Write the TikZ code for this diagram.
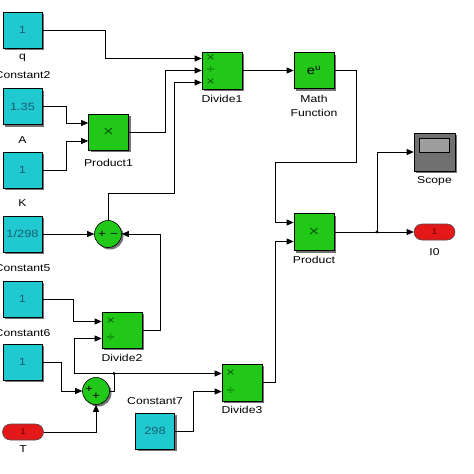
\documentclass[tikz,border=0pt]{standalone}
\usepackage{fontspec}
\setmainfont{Liberation Sans}[FakeStretch=1.22]
\usetikzlibrary{arrows.meta}
\usetikzlibrary{shadows}

\definecolor{constcyan}{RGB}{32,200,208}
\definecolor{consttext}{RGB}{20,95,115}
\definecolor{blockgreen}{RGB}{34,200,24}
\definecolor{signgreen}{RGB}{10,90,10}
\definecolor{portred}{RGB}{228,24,24}
\definecolor{scopegrey}{RGB}{112,112,112}

\begin{document}
\begin{tikzpicture}[x=1pt,y=-1pt,
    font=\fontsize{10}{11}\selectfont,
    shade box/.style={drop shadow={shadow xshift=2pt,shadow yshift=-2pt,fill=black!55,opacity=1}},
    const/.style={draw,line width=0.6pt,fill=constcyan,text=consttext,minimum width=39pt,minimum height=36pt,inner sep=0pt,font=\fontsize{10.5}{11}\selectfont,shade box},
    blk/.style={draw,line width=0.6pt,fill=blockgreen,minimum width=40pt,minimum height=36pt,inner sep=0pt,shade box},
    sumblk/.style={circle,draw,line width=0.6pt,fill=blockgreen,minimum size=27pt,inner sep=0pt,shade box},
    port/.style={draw=black!70,line width=0.6pt,fill=portred,rounded corners=8pt,minimum width=41pt,minimum height=16pt,inner sep=0pt,text=red!40!black,font=\fontsize{8}{9}\selectfont},
    sign/.style={text=signgreen,inner sep=0pt,text height=6pt,text depth=0pt,font=\fontsize{12}{12}\selectfont},
    lbl/.style={inner sep=0pt},
    wire/.style={line width=0.7pt},
    sig/.style={wire,-{Triangle[length=7pt,width=6pt]}}]
    \useasboundingbox (0,0) rectangle (474,474);
    \fill[white] (0,0) rectangle (474,474);

    % Constant blocks and ports
    \node[const] (c2) at (22.5,30) {1};
    \node[const] (cA) at (22.5,106.5) {1.35};
    \node[const] (cK) at (22.5,170) {1};
    \node[const] (c5) at (22.5,234) {1/298};
    \node[const] (c6) at (22.5,299) {1};
    \node[const] (c8) at (22.5,362) {1};
    \node[const] (c7) at (155,431) {298};
    \node[port] (T) at (23,432) {1};
    \node[port] (I0) at (434.5,232) {1};

    % Operation blocks
    \node[blk,font=\fontsize{15}{15}\selectfont,text=signgreen] (prod1) at (108.5,132) {×};
    \node[blk,minimum height=37pt] (div1) at (222,70.5) {};
    \node[blk,font=\fontsize{12}{12}\selectfont] (math) at (314,70.5) {e\textsuperscript{u}};
    \node[blk] (div2) at (122,330) {};
    \node[blk,minimum height=37pt] (div3) at (242,382.5) {};
    \node[blk,minimum height=37pt,font=\fontsize{15}{15}\selectfont,text=signgreen] (prod) at (314,232) {×};
    \node[sumblk] (sum1) at (108,234) {};
    \node[sumblk] (sum2) at (96,391) {};
    \node[draw,line width=0.6pt,fill=scopegrey,minimum width=41pt,minimum height=38pt,shade box] (scope) at (434.5,152) {};
    \draw[line width=0.6pt,fill=black!38] ([xshift=-15.5pt,yshift=14pt]scope.center) rectangle ([xshift=14.5pt]scope.center);

    % Signs on the inputs
    \foreach \b/\dy/\s [count=\i] in {div1/12/×,div1/0/÷,div1/-12/×,div2/8.5/×,div2/-8.5/÷,div3/9/×,div3/-9/÷}
        \node[sign] (sg\i) at ([xshift=9pt,yshift=\dy pt]\b.west) {\s};
    \node[sign,text=black,font=\fontsize{11}{11}\selectfont] (p1) at ([xshift=-6pt]sum1.center) {+};
    \node[sign,text=black,font=\fontsize{11}{11}\selectfont] (m1) at ([xshift=6pt]sum1.center) {−};
    \node[sign,text=black,font=\fontsize{11}{11}\selectfont] (p2) at ([xshift=-7pt,yshift=2pt]sum2.center) {+};
    \node[sign,text=black,font=\fontsize{11}{11}\selectfont] (p3) at ([yshift=-5pt]sum2.center) {+};

    % Labels
    \node[lbl] (lq) at (22.5,58) {q};
    \node[lbl] (lc2) at (22.5,75) {Constant2};
    \node[lbl] (lA) at (22.5,140) {A};
    \node[lbl] (lK) at (22.5,203) {K};
    \node[lbl] (lc5) at (22.5,268) {Constant5};
    \node[lbl] (lc6) at (22.5,333) {Constant6};
    \node[lbl] (lT) at (23,449) {T};
    \node[lbl] (lc7) at (155,401) {Constant7};
    \node[lbl] (lp1) at (108.5,163) {Product1};
    \node[lbl] (ld1) at (222,99) {Divide1};
    \node[lbl] (lm1) at (314,99) {Math};
    \node[lbl] (lm2) at (314,113) {Function};
    \node[lbl] (ld2) at (122,358) {Divide2};
    \node[lbl] (ld3) at (242,410) {Divide3};
    \node[lbl] (lp) at (314,260) {Product};
    \node[lbl] (ls) at (434.5,181) {Scope};
    \node[lbl] (li) at (434.5,252) {I0};

    % Branch points
    \coordinate (j1) at (114,373.5);
    \coordinate (j2) at (377,232);

    % Signal lines
    \draw[sig] (c2.east) -- (105,30) |- ([yshift=12pt]div1.west);
    \draw[sig] (cA.east) -- (66,106.5) |- ([yshift=9pt]prod1.west);
    \draw[sig] (cK.east) -- (66,170) |- ([yshift=-9pt]prod1.west);
    \draw[sig] (prod1.east) -- (165,132) |- (div1.west);
    \draw[sig] (sum1.north) |- (174,193) |- ([yshift=-12pt]div1.west);
    \draw[sig] (c5.east) -- (sum1.west);
    \draw[sig] (div2.east) -- (160,330) |- (sum1.east);
    \draw[sig] (c6.east) -- (73,299) |- ([yshift=8.5pt]div2.west);
    \draw[sig] (c8.east) -- (61,362) |- (sum2.west);
    \draw[sig] (T.east) -| (sum2.south);
    \draw[wire] (sum2.east) -| (j1);
    \draw[sig] (j1) -- (74,373.5) |- ([yshift=-8.5pt]div2.west);
    \draw[sig] (j1) -- ([yshift=9pt]div3.west);
    \draw[sig] (c7.east) -- (193,431) |- ([yshift=-9pt]div3.west);
    \draw[sig] (div1.east) -- (math.west);
    \draw[sig] (math.east) -- (356,70.5) -- (356,162) -| (275,222.5) -- ([yshift=9.5pt]prod.west);
    \draw[sig] (div3.east) -- (275,382.5) |- ([yshift=-9.5pt]prod.west);
    \draw[sig] (prod.east) -- (I0.west);
    \draw[sig] (j2) |- (scope.west);
    \fill (j1) circle (1.6pt);
    \fill (j2) circle (1.6pt);
\end{tikzpicture}
\end{document}
